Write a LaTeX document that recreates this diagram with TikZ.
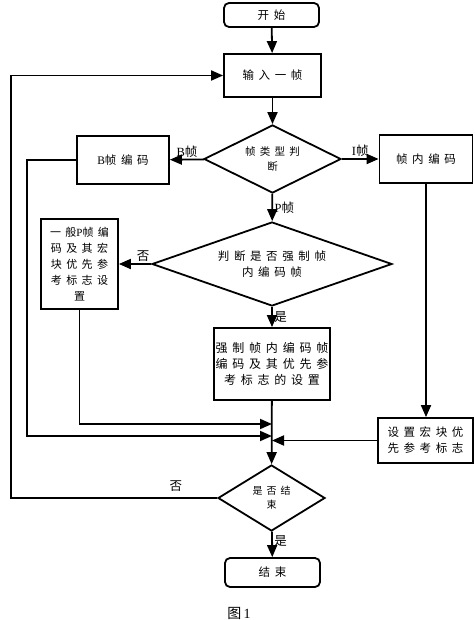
\documentclass[tikz,border=0pt]{standalone}
\usepackage{fontspec}
\setmainfont{Liberation Serif}
\newfontfamily\cjk[LetterSpace=40]{Noto Sans CJK SC}
\usetikzlibrary{positioning,arrows.meta,shapes.geometric}

\begin{document}
\begin{tikzpicture}[
    x=1pt, y=-1pt,
    >={Triangle[length=12pt,width=10pt]},
    font={\cjk\fontsize{11.5}{16}\selectfont},
    base/.style={draw,line width=1.8pt,inner sep=0pt,align=center,rectangle},
    decision/.style={base,diamond},
    terminal/.style={base,rounded corners=5pt},
    flow/.style={->,line width=1.8pt},
    lbl/.style={inner sep=1.5pt,font={\cjk\fontsize{12.5}{14}\selectfont}},
]

    \useasboundingbox (0,0) rectangle (474,620);

    \node[terminal,minimum width=95pt,minimum height=24pt] (start) at (271.5,15) {开始};

    \node[base,minimum width=97pt,minimum height=43pt] (input) at (272.5,75.5) {输入一帧};

    \node[decision,aspect=2,minimum width=137pt,minimum height=68pt,font={\cjk\fontsize{10.5}{15}\selectfont}] (type) at (272.5,159) {帧类型判\\断};

    \node[base,minimum width=92pt,minimum height=48pt] (bframe) at (123,160) {{\rmfamily B}帧编码};

    \node[base,minimum width=93pt,minimum height=48pt] (iframe) at (426,159) {帧内编码};

    \node[decision,aspect=2.86,minimum width=240pt,minimum height=84pt,font={\cjk\fontsize{11.5}{16}\selectfont}] (force) at (272,264) {判断是否强制帧\\内编码帧};

    \node[base,minimum width=77pt,minimum height=90pt,font={\cjk\fontsize{11}{16}\selectfont}] (pnormal) at (79.5,264) {一般{\rmfamily P}帧编\\码及其宏\\块优先参\\考标志设\\置};

    \node[base,minimum width=116pt,minimum height=72pt,font={\cjk\fontsize{12}{16}\selectfont}] (intra) at (272,364) {强制帧内编码帧\\编码及其优先参\\考标志的设置};

    \node[base,minimum width=95pt,minimum height=45pt] (setflag) at (425.5,440.5) {设置宏块优\\先参考标志};

    \node[decision,aspect=1.62,minimum width=107pt,minimum height=66pt,font={\cjk\fontsize{10}{14}\selectfont}] (isend) at (271.5,498) {是否结\\束};

    \node[terminal,minimum width=95pt,minimum height=29pt] (finish) at (272.5,572.5) {结束};

    \node[font={\cjk\fontsize{14}{16}\selectfont}] (caption) at (239,613) {图{\rmfamily\,1}};

    \coordinate (m1) at (272,424);
    \coordinate (m2) at (272,436);

    \draw[flow](start) -- (input);
    \draw[flow](input) -- (type);

    \draw[flow](type) -- node[lbl,above] (lblb) {{\rmfamily B}帧} (bframe);
    \draw[flow](type) -- node[lbl,above] (lbli) {{\rmfamily I}帧} (iframe);
    \draw[flow](type) -- node[lbl,right] (lblp) {{\rmfamily P}帧} (force);

    \draw[flow](force) -- node[lbl,above,pos=0.25] (lblno) {否} (pnormal);
    \draw[flow](force) -- node[lbl,right] (lblyes) {是} (intra);

    \draw[flow](iframe) -- (iframe.south |- setflag.north);

    \draw[flow](pnormal.south) |- (m1);
    \draw[flow](bframe.west) -- ++(-49,0) |- (m2);
    \draw[flow](setflag.west) -- (setflag.west -| intra.south);

    \draw[flow](intra) -- (isend);

    \draw[flow](isend.west) -- node[lbl,above,pos=0.2,yshift=4pt] (lblloop) {否} (11,498) |- (input.west);
    \draw[flow](isend) -- node[lbl,right,pos=0.35] (lblend) {是} (finish);

\end{tikzpicture}
\end{document}
